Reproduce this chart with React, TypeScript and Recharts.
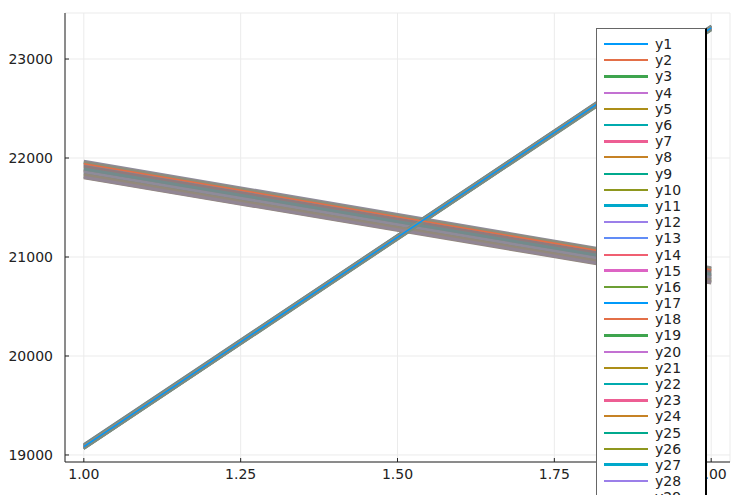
import { LineChart, Line, XAxis, YAxis, CartesianGrid } from "recharts";

// x positions sampled by every series
const xValues = [1, 2];

// the bundle that climbs (odd series y1, y3, ...)
const risingStart = [19085, 19062, 19098, 19071, 19107, 19066, 19092, 19079, 19103, 19060, 19088, 19074, 19095, 19068, 19110, 19082, 19064, 19100, 19076, 19090];
const risingEnd = [23315, 23292, 23328, 23301, 23336, 23296, 23322, 23309, 23333, 23290, 23318, 23304, 23325, 23298, 23337, 23312, 23294, 23330, 23306, 23320];

// the bundle that sinks (even series y2, y4, ...)
const fallingStart = [21942, 21805, 21890, 21830, 21955, 21860, 21915, 21818, 21875, 21935, 21848, 21902, 21812, 21968, 21868, 21925, 21838, 21882, 21950, 21800];
const fallingEnd = [20872, 20745, 20825, 20768, 20885, 20795, 20850, 20755, 20810, 20866, 20782, 20838, 20750, 20892, 20802, 20858, 20775, 20818, 20880, 20738];

const xTicks = [1, 1.25, 1.5, 1.75, 2];
const yTicks = [19000, 20000, 21000, 22000, 23000];

const palette = [
  "#009AFA", "#E36F47", "#3EA44E", "#C371D2", "#AC8E18", "#00AAAE", "#ED5E93", "#C68225",
  "#00A98D", "#8E971E", "#00A8CB", "#9B7FE9", "#618CF6", "#F05F71", "#DD64C4", "#6C9F34",
];

const seriesCount = risingStart.length + fallingStart.length;
const seriesNames = Array.from({ length: seriesCount }, (_, i) => `y${i + 1}`);

const seriesValues = (i: number) =>
  i % 2 === 0
    ? [risingStart[i / 2], risingEnd[i / 2]]
    : [fallingStart[(i - 1) / 2], fallingEnd[(i - 1) / 2]];

const data = xValues.map((x, k) => {
  const row: Record<string, number> = { x };
  seriesNames.forEach((name, i) => {
    row[name] = seriesValues(i)[k];
  });
  return row;
});

const font = "'DejaVu Sans', sans-serif";

function Legend() {
  return (
    <div
      style={{
        position: "absolute",
        left: 596,
        top: 28,
        width: 108,
        background: "#fff",
        borderTop: "1px solid #666",
        borderLeft: "1px solid #666",
        borderRight: "2px solid #000",
        paddingTop: 7,
        fontFamily: font,
        fontSize: 14,
        color: "#222",
      }}
    >
      {seriesNames.map((name, i) => (
        <div key={name} style={{ height: 16.2, display: "flex", alignItems: "center" }}>
          <div
            style={{
              marginLeft: 7,
              width: 44,
              height: i % 4 === 2 ? 3 : 2,
              background: palette[i % palette.length],
            }}
          />
          <span style={{ marginLeft: 7, lineHeight: "16px" }}>{name}</span>
        </div>
      ))}
    </div>
  );
}

export default function App() {
  // draw back to front so y1 and y2 end up on top of their bundles
  const drawOrder = [...seriesNames].reverse();
  return (
    <div
      style={{
        position: "absolute",
        left: 0,
        top: 0,
        width: 732,
        height: 495,
        overflow: "hidden",
        background: "#fff",
      }}
    >
      {/* dense overlap of many colours reads as grey in the original */}
      <style>{`.bundle { filter: saturate(0.15); }`}</style>
      <LineChart
        width={732}
        height={495}
        data={data}
        margin={{ top: 13, right: 2, bottom: 0, left: 0 }}
      >
        <CartesianGrid stroke="#ebebeb" strokeWidth={1} />
        <XAxis
          dataKey="x"
          type="number"
          domain={[0.97, 2.03]}
          ticks={xTicks}
          tickFormatter={(v: number) => v.toFixed(2)}
          height={33}
          tickSize={-4}
          tickMargin={11}
          stroke="#222"
          tick={{ fill: "#222", fontSize: 14, fontFamily: font }}
          allowDataOverflow
        />
        <YAxis
          type="number"
          domain={[18929, 23465]}
          ticks={yTicks}
          width={65}
          tickSize={-4}
          tickMargin={16}
          stroke="#222"
          tick={{ fill: "#222", fontSize: 14, fontFamily: font }}
          allowDataOverflow
        />
        {drawOrder.map((name) => {
          const i = seriesNames.indexOf(name);
          const top = i < 2;
          return (
            <Line
              key={name}
              className={top ? undefined : "bundle"}
              dataKey={name}
              type="linear"
              stroke={palette[i % palette.length]}
              strokeWidth={top ? 1.5 : i % 2 === 0 ? 2 : 3}
              dot={false}
              isAnimationActive={false}
            />
          );
        })}
      </LineChart>
      <Legend />
    </div>
  );
}
